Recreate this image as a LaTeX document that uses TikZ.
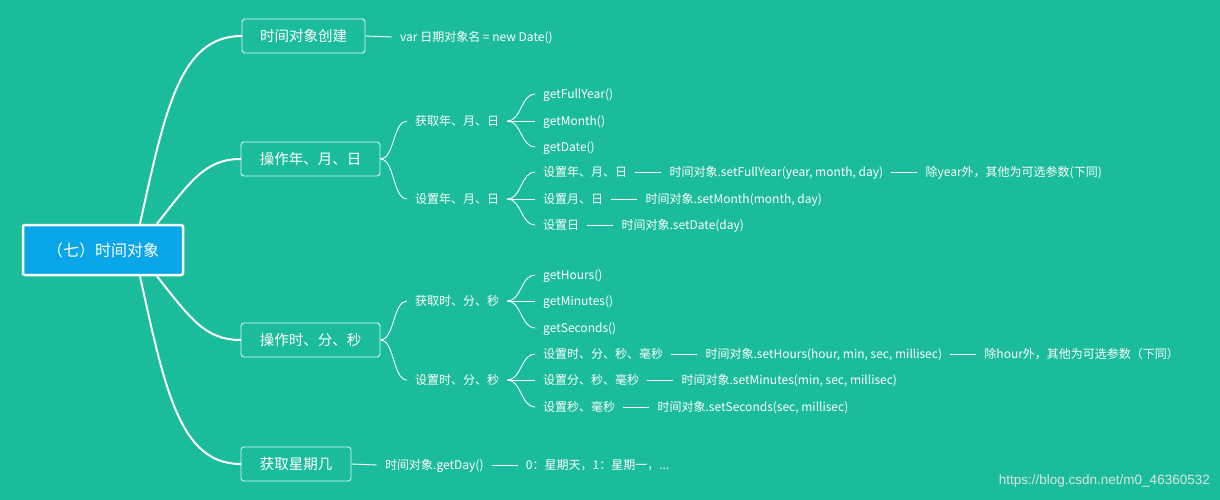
\documentclass[tikz,border=0pt]{standalone}
\usepackage{fontspec}
\setmainfont{Noto Sans CJK SC}
\newfontfamily\wmfont{Liberation Sans}
\usetikzlibrary{positioning}
\definecolor{bgteal}{HTML}{1BBC9B}
\definecolor{rootblue}{HTML}{0AA6EA}
\definecolor{wmgray}{HTML}{D8E8E4}
\begin{document}
\begin{tikzpicture}[x=1pt,y=-1pt,
  leaf/.style={anchor=west, text=white, font=\fontsize{12}{14}\selectfont, inner xsep=8pt, inner ysep=0pt, text height=10pt, text depth=1.5pt},
  box/.style={draw=white!85!bgteal, line width=0.9pt, rounded corners=3pt, text=white, font=\fontsize{14.5}{16}\selectfont, minimum height=34pt, inner xsep=0pt},
  rootbox/.style={draw=white, line width=2.5pt, fill=rootblue, rounded corners=2pt, minimum width=160pt, minimum height=50pt, text=white, font=\fontsize{16}{18}\selectfont},
  trunk/.style={draw=white, line width=2pt, line cap=round},
  link/.style={draw=white, line width=0.9pt},
  wm/.style={anchor=east, text=wmgray, font=\wmfont\fontsize{13.5}{15}\selectfont, inner sep=0pt}
]
\fill[bgteal] (0,0) rectangle (1220,500);
\useasboundingbox (0,0) rectangle (1220,500);

% root and main branches
\node[rootbox] (root) at (103,250) {（七）时间对象};
\node[box, minimum width=123pt] (b1) at (303.5,36) {时间对象创建};
\node[box, minimum width=139pt] (b2) at (310.5,159) {操作年、月、日};
\node[box, minimum width=139pt] (b3) at (310.5,340) {操作时、分、秒};
\node[box, minimum width=110pt] (b4) at (296,464) {获取星期几};

\draw[trunk] ([xshift=37pt]root.north) .. controls (165,110) and (180,36) .. (b1.west);
\draw[trunk] ([xshift=54pt]root.north) .. controls (190,182) and (205,159) .. (b2.west);
\draw[trunk] ([xshift=54pt]root.south) .. controls (190,318) and (205,340) .. (b3.west);
\draw[trunk] ([xshift=37pt]root.south) .. controls (165,390) and (180,464) .. (b4.west);

% creation
\node[leaf] (c1) at (392,37) {var 日期对象名 = new Date()};
\draw[link] (b1.east) -- (c1.west);

% year month day
\node[leaf] (y1) at (407,121) {获取年、月、日};
\node[leaf] (y2) at (407,199) {设置年、月、日};
\draw[link] (b2.east) .. controls +(14,0) and +(-14,0) .. (y1.west);
\draw[link] (b2.east) .. controls +(14,0) and +(-14,0) .. (y2.west);

\node[leaf] (y11) at (535,94) {getFullYear()};
\node[leaf] (y12) at (535,121) {getMonth()};
\node[leaf] (y13) at (535,147) {getDate()};
\foreach \n in {y11,y12,y13}
  \draw[link] (y1.east) .. controls +(14,0) and +(-14,0) .. (\n.west);

\node[leaf] (y21) at (535,172) {设置年、月、日};
\node[leaf, right=26pt of y21] (y21a) {时间对象.setFullYear(year, month, day)};
\node[leaf, right=26pt of y21a] (y21b) {除year外，其他为可选参数(下同)};
\node[leaf] (y22) at (535,199) {设置月、日};
\node[leaf, right=26pt of y22] (y22a) {时间对象.setMonth(month, day)};
\node[leaf] (y23) at (535,225) {设置日};
\node[leaf, right=26pt of y23] (y23a) {时间对象.setDate(day)};
\foreach \n in {y21,y22,y23}
  \draw[link] (y2.east) .. controls +(14,0) and +(-14,0) .. (\n.west);
\draw[link] (y21.east) -- (y21a.west);
\draw[link] (y21a.east) -- (y21b.west);
\draw[link] (y22.east) -- (y22a.west);
\draw[link] (y23.east) -- (y23a.west);

% hour minute second
\node[leaf] (h1) at (407,301) {获取时、分、秒};
\node[leaf] (h2) at (407,380) {设置时、分、秒};
\draw[link] (b3.east) .. controls +(14,0) and +(-14,0) .. (h1.west);
\draw[link] (b3.east) .. controls +(14,0) and +(-14,0) .. (h2.west);

\node[leaf] (h11) at (535,275) {getHours()};
\node[leaf] (h12) at (535,301) {getMinutes()};
\node[leaf] (h13) at (535,328) {getSeconds()};
\foreach \n in {h11,h12,h13}
  \draw[link] (h1.east) .. controls +(14,0) and +(-14,0) .. (\n.west);

\node[leaf] (h21) at (535,354) {设置时、分、秒、毫秒};
\node[leaf, right=26pt of h21] (h21a) {时间对象.setHours(hour, min, sec, millisec)};
\node[leaf, right=26pt of h21a] (h21b) {除hour外，其他为可选参数（下同）};
\node[leaf] (h22) at (535,380) {设置分、秒、毫秒};
\node[leaf, right=26pt of h22] (h22a) {时间对象.setMinutes(min, sec, millisec)};
\node[leaf] (h23) at (535,407) {设置秒、毫秒};
\node[leaf, right=26pt of h23] (h23a) {时间对象.setSeconds(sec, millisec)};
\foreach \n in {h21,h22,h23}
  \draw[link] (h2.east) .. controls +(14,0) and +(-14,0) .. (\n.west);
\draw[link] (h21.east) -- (h21a.west);
\draw[link] (h21a.east) -- (h21b.west);
\draw[link] (h22.east) -- (h22a.west);
\draw[link] (h23.east) -- (h23a.west);

% weekday
\node[leaf] (d1) at (377,465) {时间对象.getDay()};
\node[leaf, right=26pt of d1] (d2) {0：星期天，1：星期一，...};
\draw[link] (b4.east) -- (d1.west);
\draw[link] (d1.east) -- (d2.west);

\node[wm] (wmark) at (1210,481) {https://blog.csdn.net/m0\_46360532};
\end{tikzpicture}
\end{document}
